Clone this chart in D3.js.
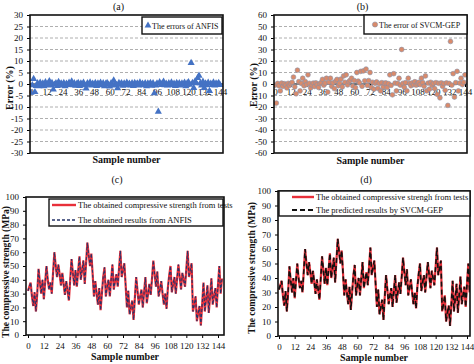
<!DOCTYPE html>
<html>
<head>
<meta charset="utf-8">
<script src="https://cdn.jsdelivr.net/npm/d3@7"></script>
<style>
  html, body { margin: 0; padding: 0; background: #fff; overflow: hidden; }
  svg { display: block; }
  text { font-family: "Liberation Serif", "Times New Roman", serif; fill: #111; }
</style>
</head>
<body>
<div id="chart"></div>
<script>
// Error (%) of ANFIS for each sample (0..144)
const anfisError = [
  -3.8, -0.5, 2.2, -3.5, -0.8, 0.4, -1.0, 0.6, -0.7, 0.3, -0.9, 0.8, -0.4, 0.2, 1.3, -0.6, 0.5, -2.4, -0.3, 0.4,
  -0.8, 0.9, -0.2, 0.3, -0.6, 0.5, -0.9, 0.2, -0.4, 0.6, -0.3, 1.1, -0.5, 0.4, -0.7, 0.2, 0.5, -0.8, 0.3, -0.2,
  0.6, -0.5, -1.9, 0.4, -0.3, 0.7, -0.6, 0.2, -0.4, 0.5, -0.8, 0.3, -0.2, 0.6, -0.5, 0.4, -0.9, 0.2, 0.5, -0.3,
  -1.1, 0.4, -0.6, 1.6, 0.3, -0.4, -1.8, 0.5, -0.2, 0.4, -0.7, 0.3, -0.5, 0.6, -0.3, 0.2, -0.6, 0.4, -0.8, 0.5,
  -0.2, 0.3, -0.6, 0.7, -0.4, 0.2, -0.5, 0.4, -0.9, 0.3, -0.2, 0.5, -0.7, 0.4, -4.0, -0.6, 0.3, -12.0, 0.8, -0.4,
  0.3, 1.0, -0.5, 0.2, -0.6, 0.4, -0.3, 0.7, -0.5, 0.2, -0.8, 0.5, -0.3, 0.4, -0.6, 0.3, -0.2, 0.6, -0.9, 0.4,
  0.8, -0.3, 9.2, 0.5, -1.7, 1.2, 0.3, 2.6, 3.6, 0.4, -0.6, 1.0, -1.7, 0.3, -0.5, 0.6, -3.0, 0.2, -0.4, 0.7,
  -0.6, 0.3, -0.2, 0.5, -0.4
];

// Error (%) of SVCM-GEP for each sample (0..144)
const svcmError = [
  -1.0, -16.6, 0.5, -1.5, -6.0, 0.8, -2.0, 0.3, -1.0, -3.4, 0.6, -1.2, 0.4, 1.5, 6.0, -2.5, -8.5, 12.0, 2.0, -6.0,
  0.5, 5.0, -1.5, 2.0, -0.5, 8.0, 0.6, -3.4, -1.0, 0.8, -2.2, 1.0, -0.6, -3.0, 0.4, 1.2, 4.0, -1.0, 0.8, 5.0,
  -7.0, 1.5, 5.0, -2.0, 1.0, -4.0, 2.5, 4.0, -1.5, 0.6, 4.3, -2.5, 7.0, 1.5, 8.0, -0.8, 2.0, 3.2, 5.0, -1.8,
  3.0, -3.2, 10.0, 2.5, 1.0, 11.0, -2.0, 11.4, 2.8, 13.0, -1.2, 3.0, 10.0, -3.0, 1.5, -4.5, 0.6, 1.8, -3.8, 0.4,
  -6.0, 1.2, -2.5, 0.5, 1.0, -3.0, 0.3, 8.0, -1.2, -9.4, 9.0, 0.8, -6.0, 0.5, 5.0, -1.0, 30.0, 0.6, -2.8, 1.2,
  -6.0, 5.0, 0.5, -1.5, 1.0, -0.6, 2.0, -1.0, 0.8, 1.5, -0.5, 5.0, 1.2, -2.0, 7.0, -6.0, 0.8, -4.5, 1.5, -1.0,
  0.5, -4.0, 1.2, -9.0, 0.6, -12.0, 1.0, -2.0, 0.4, -5.5, 1.0, -18.6, 0.5, 37.0, -1.0, 9.0, -11.4, 1.2, 11.0, -6.0,
  0.8, 5.0, -0.5, 1.5, 8.0
];

// Compressive strength from tests (MPa), samples 0..147
const measuredStrength = [
  32, 35, 38, 28, 21, 31, 17, 30, 48, 38, 30, 40, 26, 38, 50, 40, 33, 38, 30, 45,
  60, 50, 42, 51, 44, 36, 45, 37, 29, 39, 32, 25, 40, 55, 45, 36, 47, 35, 46, 57,
  40, 47, 54, 37, 52, 67, 58, 50, 59, 44, 28, 39, 30, 22, 34, 18, 30, 42, 49, 28,
  35, 40, 28, 40, 51, 33, 39, 44, 35, 48, 61, 42, 47, 52, 36, 20, 32, 15, 20, 25,
  11, 27, 42, 32, 22, 28, 33, 20, 31, 42, 23, 30, 37, 29, 41, 54, 44, 35, 46, 28,
  33, 39, 30, 22, 30, 19, 34, 43, 50, 31, 37, 42, 30, 41, 51, 42, 33, 45, 40, 35,
  48, 61, 42, 47, 52, 17, 22, 28, 10, 16, 21, 7, 22, 38, 17, 26, 36, 16, 28, 41,
  22, 28, 34, 20, 36, 50, 30, 41
];

// Predicted strengths overlap the test values at this scale
const anfisPredicted = measuredStrength.slice();
const svcmPredicted = measuredStrength.slice();

// tick labels
const sampleTicks = [0, 12, 24, 36, 48, 60, 72, 84, 96, 108, 120, 132, 144];
const errorTicksA = [-30, -25, -20, -15, -10, -5, 0, 5, 10, 15, 20, 25, 30];
const errorTicksB = [-60, -50, -40, -30, -20, -10, 0, 10, 20, 30, 40, 50, 60];
const strengthTicks = [0, 10, 20, 30, 40, 50, 60, 70, 80, 90, 100];

const svg = d3.select("#chart")
  .append("svg")
  .attr("width", 474)
  .attr("height", 364);

// helper: frame, scales, y axis, titles
function setupPanel(p) {
  const x = d3.scaleLinear().domain([0, 144]).range([p.x0, p.x144]);
  const y = d3.scaleLinear().domain([p.yTicks[0], p.yTicks[p.yTicks.length - 1]]).range([p.bottom, p.top]);
  const g = svg.append("g");

  g.append("clipPath").attr("id", "clip-" + p.id)
    .append("rect")
    .attr("x", p.left).attr("y", p.top)
    .attr("width", p.right - p.left).attr("height", p.bottom - p.top);

  // gridlines (error panels only)
  if (p.grid) {
    g.selectAll(".grid")
      .data(p.yTicks.slice(1, -1))
      .join("line")
      .attr("x1", p.left).attr("x2", p.right)
      .attr("y1", (d) => y(d)).attr("y2", (d) => y(d))
      .attr("stroke", "#9a9a9a")
      .attr("stroke-width", 0.8)
      .attr("stroke-dasharray", "3,2");
  }

  const yAxis = g.append("g")
    .attr("transform", `translate(${p.left},0)`)
    .call(d3.axisLeft(y).tickValues(p.yTicks).tickSize(3).tickFormat((d) => String(d)));
  yAxis.select(".domain").remove();
  yAxis.selectAll("text").style("font-size", "9px").attr("dx", "-1");

  // panel label
  g.append("text")
    .attr("x", (p.left + p.right) / 2 - 8)
    .attr("y", p.labelY)
    .attr("text-anchor", "middle")
    .style("font-size", "10px")
    .text(p.label);

  // axis titles
  g.append("text")
    .attr("x", (p.left + p.right) / 2)
    .attr("y", p.xTitleY)
    .attr("text-anchor", "middle")
    .style("font-size", "10px")
    .style("font-weight", "bold")
    .text("Sample number");

  g.append("text")
    .attr("transform", `translate(${p.yTitleX},${p.yTitleMid}) rotate(-90)`)
    .attr("text-anchor", "middle")
    .style("font-size", p.yTitleSize)
    .style("font-weight", "bold")
    .text(p.yTitle);

  return { g, x, y };
}

function drawFrame(g, p) {
  g.append("rect")
    .attr("x", p.left).attr("y", p.top)
    .attr("width", p.right - p.left).attr("height", p.bottom - p.top)
    .attr("fill", "none")
    .attr("stroke", "#111")
    .attr("stroke-width", 1.6);
}

// ---------- error panels (a), (b) ----------
function drawErrorPanel(p, values, marker) {
  const { g, x, y } = setupPanel(p);

  // x axis sits on the zero line
  const xAxis = g.append("g")
    .attr("transform", `translate(0,${y(0)})`)
    .call(d3.axisBottom(x).tickValues(sampleTicks).tickSize(3));
  xAxis.select(".domain").remove();
  xAxis.selectAll("text").style("font-size", "9px").attr("dy", "0.6em");
  g.append("line")
    .attr("x1", p.left).attr("x2", p.right)
    .attr("y1", y(0)).attr("y2", y(0))
    .attr("stroke", "#111").attr("stroke-width", 1);

  const pts = g.append("g").attr("clip-path", `url(#clip-${p.id})`);
  if (marker === "triangle") {
    pts.selectAll("path")
      .data(values)
      .join("path")
      .attr("transform", (d, i) => `translate(${x(i)},${y(d)})`)
      .attr("d", d3.symbol(d3.symbolTriangle).size(22))
      .attr("fill", "#4472c4");
  } else {
    pts.selectAll("circle")
      .data(values)
      .join("circle")
      .attr("cx", (d, i) => x(i))
      .attr("cy", (d) => y(d))
      .attr("r", 2.4)
      .attr("fill", "#d98a6a")
      .attr("stroke", "#8a90a6")
      .attr("stroke-width", 0.6);
  }

  drawFrame(g, p);

  // legend
  const lg = g.append("g");
  lg.append("rect")
    .attr("x", p.legend.x).attr("y", p.legend.y)
    .attr("width", p.legend.w).attr("height", p.legend.h)
    .attr("fill", "#fff").attr("stroke", "#111").attr("stroke-width", 1.4);
  const my = p.legend.y + p.legend.h / 2;
  if (marker === "triangle") {
    lg.append("path")
      .attr("transform", `translate(${p.legend.x + 6},${my})`)
      .attr("d", d3.symbol(d3.symbolTriangle).size(20))
      .attr("fill", "#4472c4");
  } else {
    lg.append("circle")
      .attr("cx", p.legend.x + 11).attr("cy", my).attr("r", 2.6)
      .attr("fill", "#d98a6a").attr("stroke", "#8a90a6").attr("stroke-width", 0.6);
  }
  lg.append("text")
    .attr("x", p.legend.x + (marker === "triangle" ? 10 : 15))
    .attr("y", my + 3)
    .style("font-size", "8px")
    .text(p.legend.text);
}

// ---------- strength panels (c), (d) ----------
function drawStrengthPanel(p, predicted) {
  const { g, x, y } = setupPanel(p);

  const xAxis = g.append("g")
    .attr("transform", `translate(0,${p.bottom})`)
    .call(d3.axisBottom(x).tickValues(sampleTicks).tickSize(3));
  xAxis.select(".domain").remove();
  xAxis.selectAll("text").style("font-size", "9px").attr("dy", "0.9em");

  const line = d3.line()
    .x((d, i) => x(i))
    .y((d) => y(d));

  const lines = g.append("g").attr("clip-path", `url(#clip-${p.id})`);
  lines.append("path")
    .datum(measuredStrength)
    .attr("d", line)
    .attr("fill", "none")
    .attr("stroke", "#e8303a")
    .attr("stroke-width", p.redWidth);
  lines.append("path")
    .datum(predicted)
    .attr("d", line)
    .attr("fill", "none")
    .attr("stroke", p.dashColor)
    .attr("stroke-width", p.dashWidth)
    .attr("stroke-dasharray", p.dashArray);

  drawFrame(g, p);

  // legend
  const lg = g.append("g");
  lg.append("rect")
    .attr("x", p.legend.x).attr("y", p.legend.y)
    .attr("width", p.legend.w).attr("height", p.legend.h)
    .attr("fill", "#fff").attr("stroke", "#111").attr("stroke-width", 1.4);
  p.legend.rows.forEach((row, k) => {
    lg.append("line")
      .attr("x1", p.legend.lineX1).attr("x2", p.legend.lineX2)
      .attr("y1", row.y).attr("y2", row.y)
      .attr("stroke", k === 0 ? "#e8303a" : p.dashColor)
      .attr("stroke-width", k === 0 ? 2.4 : p.dashWidth + 0.4)
      .attr("stroke-dasharray", k === 0 ? null : p.dashArray);
    lg.append("text")
      .attr("x", p.legend.lineX2 + 2)
      .attr("y", row.y + 3)
      .style("font-size", "8.5px")
      .text(row.text);
  });
}

drawErrorPanel({
  id: "a", label: "(a)", labelY: 10,
  left: 30, right: 223, top: 15, bottom: 153, x0: 31, x144: 220,
  yTicks: errorTicksA, grid: true,
  xTitleY: 163, yTitle: "Error (%)", yTitleX: 13, yTitleMid: 88, yTitleSize: "10px",
  legend: { x: 142, y: 17, w: 80, h: 17, text: "The errors of ANFIS" }
}, anfisError, "triangle");

drawErrorPanel({
  id: "b", label: "(b)", labelY: 10,
  left: 274, right: 467, top: 15, bottom: 153, x0: 275, x144: 465,
  yTicks: errorTicksB, grid: true,
  xTitleY: 164, yTitle: "Error (%)", yTitleX: 257, yTitleMid: 85, yTitleSize: "10px",
  legend: { x: 364, y: 15, w: 103, h: 19, text: "The error of SVCM-GEP" }
}, svcmError, "circle");

drawStrengthPanel({
  id: "c", label: "(c)", labelY: 183,
  left: 26, right: 224, top: 197, bottom: 335, x0: 28, x144: 218,
  yTicks: strengthTicks, grid: false,
  xTitleY: 360, yTitle: "The compressive strength (MPa)", yTitleX: 9, yTitleMid: 272, yTitleSize: "9.5px",
  redWidth: 2.2, dashColor: "#26346a", dashWidth: 1.1, dashArray: "3,2",
  legend: {
    x: 49, y: 199, w: 174, h: 27, lineX1: 52, lineX2: 76,
    rows: [
      { y: 205, text: "The obtained compressive strength from tests" },
      { y: 220, text: "The obtained results from ANFIS" }
    ]
  }
}, anfisPredicted);

drawStrengthPanel({
  id: "d", label: "(d)", labelY: 183,
  left: 278, right: 470, top: 191, bottom: 336, x0: 279, x144: 467,
  yTicks: strengthTicks, grid: false,
  xTitleY: 361, yTitle: "The compressive strength (MPa)", yTitleX: 255, yTitleMid: 268, yTitleSize: "9.5px",
  redWidth: 2.2, dashColor: "#111", dashWidth: 1.6, dashArray: "5,3",
  legend: {
    x: 279, y: 191, w: 191, h: 25, lineX1: 292, lineX2: 314,
    rows: [
      { y: 197, text: "The obtained compressive strengh from tests" },
      { y: 210, text: "The predicted results by SVCM-GEP" }
    ]
  }
}, svcmPredicted);
</script>
</body>
</html>
